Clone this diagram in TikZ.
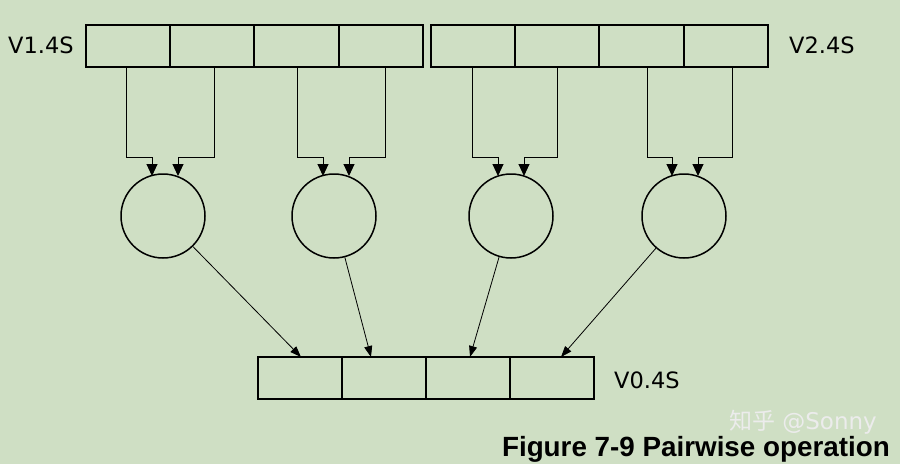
\documentclass[tikz,border=0pt]{standalone}
\usepackage{fontspec}
\setmainfont{DejaVu Sans}
\newfontfamily\arialf{Liberation Sans}
\newfontfamily\cjk{Noto Sans CJK SC}
\usetikzlibrary{arrows.meta}
\definecolor{bg}{HTML}{CFDFC4}
\begin{document}
\begin{tikzpicture}[x=1pt,y=-1pt,
  cell/.style={draw,line width=1.5pt,minimum width=84pt,minimum height=42pt,inner sep=0pt,outer sep=0pt},
  op/.style={draw,circle,line width=1.5pt,minimum size=84pt,inner sep=0pt},
  feed/.style={line width=1pt,-{Triangle[width=11pt,length=12pt]}},
  res/.style={line width=0.8pt,-{Triangle[width=8pt,length=11pt]}},
  lab/.style={font=\fontsize{22.5}{22.5}\selectfont,anchor=west,inner sep=0pt}]
\fill[bg] (0,0) rectangle (900,464);
\useasboundingbox (0,0) rectangle (900,464);
% top registers
\foreach \i/\x in {1/86,2/170,3/254.5,4/339}{\node[cell,anchor=north west] (a\i) at (\x,25) {};}
\foreach \i/\x in {1/431,2/515,3/599.5,4/684}{\node[cell,anchor=north west] (b\i) at (\x,25) {};}
\foreach \i/\x in {1/258,2/342,3/426,4/510}{\node[cell,anchor=north west,minimum height=42pt] (c\i) at (\x,357) {};}
% circles
\node[op] (o1) at (163,216) {};
\node[op] (o2) at (334,216) {};
\node[op] (o3) at (511,216) {};
\node[op] (o4) at (684,216) {};
% labels
\node[lab] (l1) at (8,45) {V1.4S};
\node[lab] (l2) at (789,45) {V2.4S};
\node[lab] (l3) at (614,380) {V0.4S};
% feeds
\foreach \o/\ax/\bx/\p/\q in {o1/126/214/152/178,o2/297/385/323/349,o3/472/557/498/524,o4/647/732/672/698}{
  \coordinate (s1) at (\ax,67); \coordinate (s2) at (\bx,67);
  \coordinate (t1) at (\p,176); \coordinate (t2) at (\q,176);
  \draw[feed] (s1) |- ([yshift=19pt]t1) -- (t1);
  \draw[feed] (s2) |- ([yshift=19pt]t2) -- (t2);
}
% results
\coordinate (r1) at (301,357); \coordinate (r2) at (371,357);
\coordinate (r3) at (470,357); \coordinate (r4) at (561,357);
\draw[res] (o1) -- (r1);
\draw[res] (o2) -- (r2);
\draw[res] (o3) -- (r3);
\draw[res] (o4) -- (r4);
% watermark & caption
\node[anchor=east,inner sep=0pt,text=white!85!gray,font=\fontsize{23}{23}\selectfont] (wm) at (877,422) {{\cjk 知乎} @Sonny};
\node[anchor=east,inner sep=0pt,font=\arialf\bfseries\fontsize{27.8}{27.8}\selectfont] (cap) at (890,449) {Figure 7-9 Pairwise operation};
\end{tikzpicture}
\end{document}
